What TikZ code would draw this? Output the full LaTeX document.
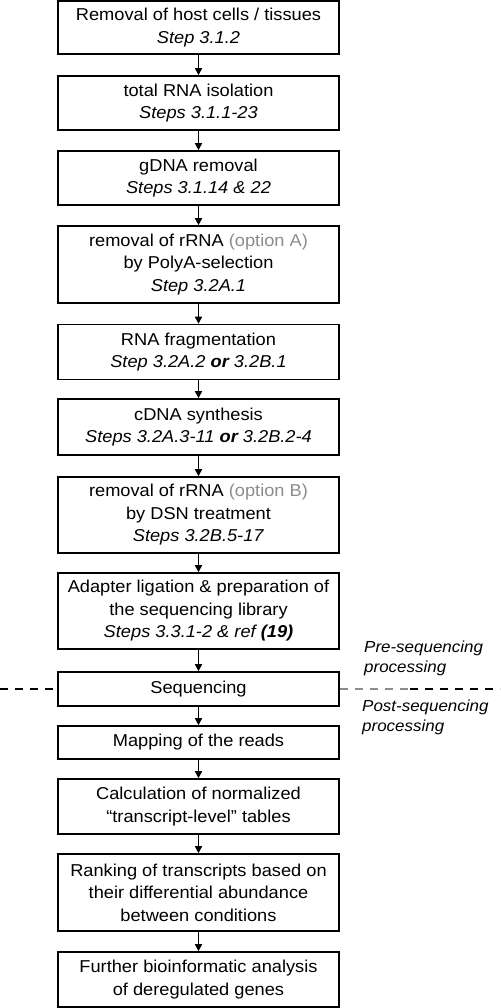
\documentclass[tikz,border=0pt]{standalone}
\usepackage{fontspec}
\setmainfont{Liberation Sans}[FakeStretch=1.06]
\usetikzlibrary{arrows.meta}
\definecolor{optgrey}{gray}{0.55}
\tikzset{
  stepbox/.style={draw=black, line width=1.6pt, minimum width=281pt, inner sep=0pt,
    align=center, font=\fontsize{17.2}{22.5}\selectfont},
  flow/.style={-{Triangle[length=7pt,width=7pt]}, line width=1.5pt},
  sepline/.style={dash pattern=on 8pt off 7pt, line width=1.8pt},
  sidelabel/.style={anchor=west, inner sep=0pt, align=left,
    font=\fontsize{16}{20}\selectfont\itshape},
}
\begin{document}
\begin{tikzpicture}[x=1pt,y=-1pt]
\useasboundingbox (0,0) rectangle (500,1008);
\node[stepbox, minimum height=53pt] (b1) at (198.5,27.5) {Removal of host cells / tissues\\\textit{Step 3.1.2}};
\node[stepbox, minimum height=54pt] (b2) at (198.5,103) {total RNA isolation\\\textit{Steps 3.1.1-23}};
\node[stepbox, minimum height=54pt] (b3) at (198.5,178) {gDNA removal\\\textit{Steps 3.1.14 \& 22}};
\node[stepbox, minimum height=77pt] (b4) at (198.5,264.5) {removal of rRNA \textcolor{optgrey}{(option A)}\\by PolyA-selection\\\textit{Step 3.2A.1}};
\node[stepbox, minimum height=55pt] (b5) at (198.5,352) {RNA fragmentation\\\textit{Step 3.2A.2 \textbf{or} 3.2B.1}};
\node[stepbox, minimum height=56pt] (b6) at (198.5,427) {cDNA synthesis\\\textit{Steps 3.2A.3-11 \textbf{or} 3.2B.2-4}};
\node[stepbox, minimum height=76pt] (b7) at (198.5,515) {removal of rRNA \textcolor{optgrey}{(option B)}\\by DSN treatment\\\textit{Steps 3.2B.5-17}};
\node[stepbox, minimum height=76pt] (b8) at (198.5,611) {Adapter ligation \& preparation of\\the sequencing library\\\textit{Steps 3.3.1-2 \& ref \textbf{(19)}}};
\node[stepbox, minimum height=34pt] (b9) at (198.5,689) {Sequencing};
\node[stepbox, minimum height=33pt] (b10) at (198.5,742.5) {Mapping of the reads};
\node[stepbox, minimum height=55pt] (b11) at (198.5,806.5) {Calculation of normalized\\“transcript-level” tables};
\node[stepbox, minimum height=77pt] (b12) at (198.5,892.5) {Ranking of transcripts based on\\their differential abundance\\between conditions};
\node[stepbox, minimum height=55pt] (b13) at (198.5,979.5) {Further bioinformatic analysis\\of deregulated genes};
\foreach \a/\b in {b1/b2,b2/b3,b3/b4,b4/b5,b5/b6,b6/b7,b7/b8,b8/b9,b9/b10,b10/b11,b11/b12,b12/b13}
  \draw[flow] (\a.south) -- (\b.north);
\coordinate (dl) at (0,689);
\coordinate (dm) at (410,689);
\coordinate (dr) at (500,689);
\draw[sepline] (dl) -- (b9.west);
\draw[sepline, draw=optgrey] (b9.east) -- (dm);
\draw[sepline] (dm) -- (dr);
\node[sidelabel] (pre) at (364,658) {Pre-sequencing\\processing};
\node[sidelabel] (post) at (362,717) {Post-sequencing\\processing};
\end{tikzpicture}
\end{document}
